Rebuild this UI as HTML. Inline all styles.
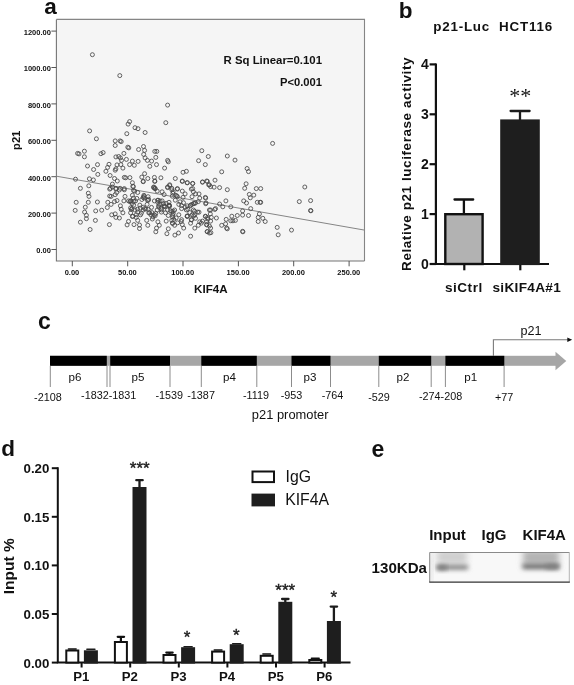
<!DOCTYPE html>
<html lang="en"><head><meta charset="utf-8"><title>Figure</title>
<style>
html,body{margin:0;padding:0;background:#fff;}
body{width:574px;height:685px;overflow:hidden;}
svg{display:block;}
text{font-family:"Liberation Sans",Arial,Helvetica,sans-serif;fill:#111;}
.b{font-weight:bold;}
.ser{font-family:"Liberation Serif","Times New Roman",serif;}
</style></head><body>
<svg width="574" height="685" viewBox="0 0 574 685">
<rect x="0" y="0" width="574" height="685" fill="#ffffff"/>
<g id="panel-a">
<text class="b" x="44.3" y="13.5" font-size="22.5">a</text>
<rect x="56.4" y="19.4" width="308.1" height="241.6" fill="#f5f5f5"/>
<path d="M56.4 19.4H364.5V261.0" fill="none" stroke="#858585" stroke-width="1.1"/>
<path d="M56.4 19.4V261.0H364.5" fill="none" stroke="#757575" stroke-width="1.1"/>
<line x1="51.4" y1="249.5" x2="56.4" y2="249.5" stroke="#555" stroke-width="1"/>
<text class="b" x="50.9" y="253.4" font-size="7.5" text-anchor="end" fill="#333">0.00</text>
<line x1="51.4" y1="213.1" x2="56.4" y2="213.1" stroke="#555" stroke-width="1"/>
<text class="b" x="50.9" y="217.0" font-size="7.5" text-anchor="end" fill="#333">200.00</text>
<line x1="51.4" y1="176.7" x2="56.4" y2="176.7" stroke="#555" stroke-width="1"/>
<text class="b" x="50.9" y="180.6" font-size="7.5" text-anchor="end" fill="#333">400.00</text>
<line x1="51.4" y1="140.3" x2="56.4" y2="140.3" stroke="#555" stroke-width="1"/>
<text class="b" x="50.9" y="144.2" font-size="7.5" text-anchor="end" fill="#333">600.00</text>
<line x1="51.4" y1="103.9" x2="56.4" y2="103.9" stroke="#555" stroke-width="1"/>
<text class="b" x="50.9" y="107.8" font-size="7.5" text-anchor="end" fill="#333">800.00</text>
<line x1="51.4" y1="67.5" x2="56.4" y2="67.5" stroke="#555" stroke-width="1"/>
<text class="b" x="50.9" y="71.4" font-size="7.5" text-anchor="end" fill="#333">1000.00</text>
<line x1="51.4" y1="31.1" x2="56.4" y2="31.1" stroke="#555" stroke-width="1"/>
<text class="b" x="50.9" y="35.0" font-size="7.5" text-anchor="end" fill="#333">1200.00</text>
<line x1="72.3" y1="261.0" x2="72.3" y2="266.3" stroke="#555" stroke-width="1"/>
<text class="b" x="72.0" y="274.6" font-size="7.5" text-anchor="middle" fill="#333">0.00</text>
<line x1="127.7" y1="261.0" x2="127.7" y2="266.3" stroke="#555" stroke-width="1"/>
<text class="b" x="127.4" y="274.6" font-size="7.5" text-anchor="middle" fill="#333">50.00</text>
<line x1="183.0" y1="261.0" x2="183.0" y2="266.3" stroke="#555" stroke-width="1"/>
<text class="b" x="182.7" y="274.6" font-size="7.5" text-anchor="middle" fill="#333">100.00</text>
<line x1="238.4" y1="261.0" x2="238.4" y2="266.3" stroke="#555" stroke-width="1"/>
<text class="b" x="238.1" y="274.6" font-size="7.5" text-anchor="middle" fill="#333">150.00</text>
<line x1="293.7" y1="261.0" x2="293.7" y2="266.3" stroke="#555" stroke-width="1"/>
<text class="b" x="293.4" y="274.6" font-size="7.5" text-anchor="middle" fill="#333">200.00</text>
<line x1="349.1" y1="261.0" x2="349.1" y2="266.3" stroke="#555" stroke-width="1"/>
<text class="b" x="348.8" y="274.6" font-size="7.5" text-anchor="middle" fill="#333">250.00</text>
<line x1="56.4" y1="176.2" x2="364.5" y2="230.1" stroke="#858585" stroke-width="1"/>
<g fill="none" stroke="#484848" stroke-width="0.85">
<circle cx="92.4" cy="54.7" r="2.0"/><circle cx="119.8" cy="75.6" r="2.0"/><circle cx="167.6" cy="105.1" r="2.0"/><circle cx="165.8" cy="122.7" r="2.0"/><circle cx="129.6" cy="121.6" r="2.0"/><circle cx="128.1" cy="124.1" r="2.0"/><circle cx="135.0" cy="127.7" r="2.0"/><circle cx="138.0" cy="128.7" r="2.0"/><circle cx="89.6" cy="130.9" r="2.0"/><circle cx="96.4" cy="138.8" r="2.0"/><circle cx="77.6" cy="153.4" r="2.0"/><circle cx="79.0" cy="153.9" r="2.0"/><circle cx="84.4" cy="151.2" r="2.0"/><circle cx="84.4" cy="156.8" r="2.0"/><circle cx="100.9" cy="153.7" r="2.0"/><circle cx="103.1" cy="152.6" r="2.0"/><circle cx="87.5" cy="166.0" r="2.0"/><circle cx="97.5" cy="164.6" r="2.0"/><circle cx="93.6" cy="169.5" r="2.0"/><circle cx="97.8" cy="174.4" r="2.0"/><circle cx="75.5" cy="179.2" r="2.0"/><circle cx="89.4" cy="178.8" r="2.0"/><circle cx="93.4" cy="179.9" r="2.0"/><circle cx="88.8" cy="185.8" r="2.0"/><circle cx="80.4" cy="188.3" r="2.0"/><circle cx="126.8" cy="133.7" r="2.0"/><circle cx="115.2" cy="140.9" r="2.0"/><circle cx="120.1" cy="140.9" r="2.0"/><circle cx="121.2" cy="141.6" r="2.0"/><circle cx="115.2" cy="145.5" r="2.0"/><circle cx="127.8" cy="147.2" r="2.0"/><circle cx="128.8" cy="147.9" r="2.0"/><circle cx="123.9" cy="153.4" r="2.0"/><circle cx="115.9" cy="156.9" r="2.0"/><circle cx="118.7" cy="156.5" r="2.0"/><circle cx="120.4" cy="157.9" r="2.0"/><circle cx="121.5" cy="160.4" r="2.0"/><circle cx="126.4" cy="159.4" r="2.0"/><circle cx="132.4" cy="161.1" r="2.0"/><circle cx="129.6" cy="164.6" r="2.0"/><circle cx="134.3" cy="165.3" r="2.0"/><circle cx="109.0" cy="164.3" r="2.0"/><circle cx="107.6" cy="167.4" r="2.0"/><circle cx="105.9" cy="171.3" r="2.0"/><circle cx="117.0" cy="164.9" r="2.0"/><circle cx="120.8" cy="164.6" r="2.0"/><circle cx="115.9" cy="168.8" r="2.0"/><circle cx="115.2" cy="170.2" r="2.0"/><circle cx="122.9" cy="168.1" r="2.0"/><circle cx="110.1" cy="175.5" r="2.0"/><circle cx="114.5" cy="178.5" r="2.0"/><circle cx="117.3" cy="181.0" r="2.0"/><circle cx="124.3" cy="177.4" r="2.0"/><circle cx="125.7" cy="177.8" r="2.0"/><circle cx="129.9" cy="177.6" r="2.0"/><circle cx="132.4" cy="182.7" r="2.0"/><circle cx="112.4" cy="184.1" r="2.0"/><circle cx="110.4" cy="188.3" r="2.0"/><circle cx="115.9" cy="188.3" r="2.0"/><circle cx="120.1" cy="188.3" r="2.0"/><circle cx="124.3" cy="188.6" r="2.0"/><circle cx="133.4" cy="186.6" r="2.0"/><circle cx="88.3" cy="193.2" r="2.0"/><circle cx="89.0" cy="196.4" r="2.0"/><circle cx="76.2" cy="202.3" r="2.0"/><circle cx="88.3" cy="202.3" r="2.0"/><circle cx="97.4" cy="202.0" r="2.0"/><circle cx="85.3" cy="207.2" r="2.0"/><circle cx="75.2" cy="210.4" r="2.0"/><circle cx="84.6" cy="212.1" r="2.0"/><circle cx="95.7" cy="210.9" r="2.0"/><circle cx="101.7" cy="210.2" r="2.0"/><circle cx="86.4" cy="215.3" r="2.0"/><circle cx="86.4" cy="218.7" r="2.0"/><circle cx="95.4" cy="220.4" r="2.0"/><circle cx="80.4" cy="222.2" r="2.0"/><circle cx="90.1" cy="229.5" r="2.0"/><circle cx="109.4" cy="224.6" r="2.0"/><circle cx="107.8" cy="202.3" r="2.0"/><circle cx="111.1" cy="204.4" r="2.0"/><circle cx="107.3" cy="207.5" r="2.0"/><circle cx="109.7" cy="189.1" r="2.0"/><circle cx="109.7" cy="196.0" r="2.0"/><circle cx="111.1" cy="196.4" r="2.0"/><circle cx="112.4" cy="187.0" r="2.0"/><circle cx="115.9" cy="189.1" r="2.0"/><circle cx="119.4" cy="190.0" r="2.0"/><circle cx="124.3" cy="189.8" r="2.0"/><circle cx="116.6" cy="192.5" r="2.0"/><circle cx="115.2" cy="194.6" r="2.0"/><circle cx="125.0" cy="196.4" r="2.0"/><circle cx="114.5" cy="201.6" r="2.0"/><circle cx="117.0" cy="200.6" r="2.0"/><circle cx="123.9" cy="200.9" r="2.0"/><circle cx="128.5" cy="200.9" r="2.0"/><circle cx="129.9" cy="201.6" r="2.0"/><circle cx="132.4" cy="195.3" r="2.0"/><circle cx="133.4" cy="198.1" r="2.0"/><circle cx="120.4" cy="205.8" r="2.0"/><circle cx="121.2" cy="209.3" r="2.0"/><circle cx="122.9" cy="212.8" r="2.0"/><circle cx="130.6" cy="207.9" r="2.0"/><circle cx="131.3" cy="209.5" r="2.0"/><circle cx="130.6" cy="212.8" r="2.0"/><circle cx="111.7" cy="214.8" r="2.0"/><circle cx="115.2" cy="213.9" r="2.0"/><circle cx="115.9" cy="217.4" r="2.0"/><circle cx="119.4" cy="218.0" r="2.0"/><circle cx="132.4" cy="216.5" r="2.0"/><circle cx="128.5" cy="221.4" r="2.0"/><circle cx="127.1" cy="224.9" r="2.0"/><circle cx="134.0" cy="224.6" r="2.0"/><circle cx="134.7" cy="191.1" r="2.0"/><circle cx="145.1" cy="132.5" r="2.0"/><circle cx="143.5" cy="146.5" r="2.0"/><circle cx="138.6" cy="149.5" r="2.0"/><circle cx="144.6" cy="150.4" r="2.0"/><circle cx="143.7" cy="154.4" r="2.0"/><circle cx="145.1" cy="157.9" r="2.0"/><circle cx="147.4" cy="160.4" r="2.0"/><circle cx="151.6" cy="161.1" r="2.0"/><circle cx="155.8" cy="157.4" r="2.0"/><circle cx="154.8" cy="151.4" r="2.0"/><circle cx="156.8" cy="151.4" r="2.0"/><circle cx="156.5" cy="164.6" r="2.0"/><circle cx="149.8" cy="166.3" r="2.0"/><circle cx="138.1" cy="161.4" r="2.0"/><circle cx="167.6" cy="160.4" r="2.0"/><circle cx="168.3" cy="161.8" r="2.0"/><circle cx="164.6" cy="168.1" r="2.0"/><circle cx="201.8" cy="150.7" r="2.0"/><circle cx="208.3" cy="156.5" r="2.0"/><circle cx="198.6" cy="160.7" r="2.0"/><circle cx="205.3" cy="164.6" r="2.0"/><circle cx="183.0" cy="172.3" r="2.0"/><circle cx="186.4" cy="171.3" r="2.0"/><circle cx="144.6" cy="173.7" r="2.0"/><circle cx="141.8" cy="177.1" r="2.0"/><circle cx="147.8" cy="178.5" r="2.0"/><circle cx="143.2" cy="181.3" r="2.0"/><circle cx="154.4" cy="177.4" r="2.0"/><circle cx="154.8" cy="181.0" r="2.0"/><circle cx="160.9" cy="177.8" r="2.0"/><circle cx="175.3" cy="178.5" r="2.0"/><circle cx="182.3" cy="181.0" r="2.0"/><circle cx="187.4" cy="182.7" r="2.0"/><circle cx="192.7" cy="183.4" r="2.0"/><circle cx="202.5" cy="182.0" r="2.0"/><circle cx="206.7" cy="181.0" r="2.0"/><circle cx="208.7" cy="184.8" r="2.0"/><circle cx="153.7" cy="187.6" r="2.0"/><circle cx="155.1" cy="188.6" r="2.0"/><circle cx="169.7" cy="184.8" r="2.0"/><circle cx="167.6" cy="187.6" r="2.0"/><circle cx="171.8" cy="188.3" r="2.0"/><circle cx="177.4" cy="188.6" r="2.0"/><circle cx="192.7" cy="188.6" r="2.0"/><circle cx="143.2" cy="181.7" r="2.0"/><circle cx="154.8" cy="181.4" r="2.0"/><circle cx="182.3" cy="181.4" r="2.0"/><circle cx="187.1" cy="182.8" r="2.0"/><circle cx="192.7" cy="183.5" r="2.0"/><circle cx="202.5" cy="182.1" r="2.0"/><circle cx="207.4" cy="181.4" r="2.0"/><circle cx="209.4" cy="184.9" r="2.0"/><circle cx="132.8" cy="186.3" r="2.0"/><circle cx="133.5" cy="190.5" r="2.0"/><circle cx="137.7" cy="192.5" r="2.0"/><circle cx="153.7" cy="187.0" r="2.0"/><circle cx="155.1" cy="188.6" r="2.0"/><circle cx="157.2" cy="191.1" r="2.0"/><circle cx="162.1" cy="191.8" r="2.0"/><circle cx="164.1" cy="194.6" r="2.0"/><circle cx="167.6" cy="187.0" r="2.0"/><circle cx="169.7" cy="185.6" r="2.0"/><circle cx="171.8" cy="189.8" r="2.0"/><circle cx="173.2" cy="191.8" r="2.0"/><circle cx="177.4" cy="189.1" r="2.0"/><circle cx="182.3" cy="191.1" r="2.0"/><circle cx="185.1" cy="193.9" r="2.0"/><circle cx="191.3" cy="189.1" r="2.0"/><circle cx="193.4" cy="191.8" r="2.0"/><circle cx="195.5" cy="193.9" r="2.0"/><circle cx="199.0" cy="193.9" r="2.0"/><circle cx="192.0" cy="196.7" r="2.0"/><circle cx="199.7" cy="198.1" r="2.0"/><circle cx="205.3" cy="197.4" r="2.0"/><circle cx="198.3" cy="201.6" r="2.0"/><circle cx="206.0" cy="203.0" r="2.0"/><circle cx="143.9" cy="195.3" r="2.0"/><circle cx="143.2" cy="197.4" r="2.0"/><circle cx="148.1" cy="196.7" r="2.0"/><circle cx="147.4" cy="200.2" r="2.0"/><circle cx="141.8" cy="199.5" r="2.0"/><circle cx="135.6" cy="200.9" r="2.0"/><circle cx="130.7" cy="200.9" r="2.0"/><circle cx="132.1" cy="203.7" r="2.0"/><circle cx="139.8" cy="205.1" r="2.0"/><circle cx="143.2" cy="207.2" r="2.0"/><circle cx="154.4" cy="200.9" r="2.0"/><circle cx="157.9" cy="200.2" r="2.0"/><circle cx="160.0" cy="200.9" r="2.0"/><circle cx="162.1" cy="200.9" r="2.0"/><circle cx="176.0" cy="195.3" r="2.0"/><circle cx="177.4" cy="196.7" r="2.0"/><circle cx="183.0" cy="197.4" r="2.0"/><circle cx="175.3" cy="200.2" r="2.0"/><circle cx="178.8" cy="204.4" r="2.0"/><circle cx="169.0" cy="202.3" r="2.0"/><circle cx="169.0" cy="205.8" r="2.0"/><circle cx="164.1" cy="205.8" r="2.0"/><circle cx="187.1" cy="205.8" r="2.0"/><circle cx="190.6" cy="205.1" r="2.0"/><circle cx="192.0" cy="204.4" r="2.0"/><circle cx="195.5" cy="203.0" r="2.0"/><circle cx="185.1" cy="207.2" r="2.0"/><circle cx="181.6" cy="208.6" r="2.0"/><circle cx="187.8" cy="209.3" r="2.0"/><circle cx="132.1" cy="208.6" r="2.0"/><circle cx="134.9" cy="210.0" r="2.0"/><circle cx="137.7" cy="212.1" r="2.0"/><circle cx="136.3" cy="214.8" r="2.0"/><circle cx="132.8" cy="216.2" r="2.0"/><circle cx="140.5" cy="214.8" r="2.0"/><circle cx="144.6" cy="208.6" r="2.0"/><circle cx="148.1" cy="209.3" r="2.0"/><circle cx="148.8" cy="212.8" r="2.0"/><circle cx="150.9" cy="214.8" r="2.0"/><circle cx="153.0" cy="216.9" r="2.0"/><circle cx="155.8" cy="213.4" r="2.0"/><circle cx="157.2" cy="210.0" r="2.0"/><circle cx="158.6" cy="205.8" r="2.0"/><circle cx="161.4" cy="212.1" r="2.0"/><circle cx="165.5" cy="212.8" r="2.0"/><circle cx="168.3" cy="215.5" r="2.0"/><circle cx="171.8" cy="211.4" r="2.0"/><circle cx="173.2" cy="213.4" r="2.0"/><circle cx="174.6" cy="210.0" r="2.0"/><circle cx="172.5" cy="216.9" r="2.0"/><circle cx="178.8" cy="214.8" r="2.0"/><circle cx="187.1" cy="216.2" r="2.0"/><circle cx="192.0" cy="214.8" r="2.0"/><circle cx="194.8" cy="214.8" r="2.0"/><circle cx="197.6" cy="212.1" r="2.0"/><circle cx="193.4" cy="210.0" r="2.0"/><circle cx="205.3" cy="216.2" r="2.0"/><circle cx="207.4" cy="217.6" r="2.0"/><circle cx="209.4" cy="210.0" r="2.0"/><circle cx="137.7" cy="220.4" r="2.0"/><circle cx="146.7" cy="220.4" r="2.0"/><circle cx="147.8" cy="225.3" r="2.0"/><circle cx="152.3" cy="219.0" r="2.0"/><circle cx="157.9" cy="221.8" r="2.0"/><circle cx="159.3" cy="225.3" r="2.0"/><circle cx="156.5" cy="228.1" r="2.0"/><circle cx="166.2" cy="221.1" r="2.0"/><circle cx="171.8" cy="220.4" r="2.0"/><circle cx="172.5" cy="223.2" r="2.0"/><circle cx="174.6" cy="225.3" r="2.0"/><circle cx="181.6" cy="219.7" r="2.0"/><circle cx="182.3" cy="224.6" r="2.0"/><circle cx="183.7" cy="228.1" r="2.0"/><circle cx="191.3" cy="219.7" r="2.0"/><circle cx="190.6" cy="223.2" r="2.0"/><circle cx="195.5" cy="218.3" r="2.0"/><circle cx="199.7" cy="221.8" r="2.0"/><circle cx="198.3" cy="225.3" r="2.0"/><circle cx="194.8" cy="228.1" r="2.0"/><circle cx="202.5" cy="221.1" r="2.0"/><circle cx="206.7" cy="221.8" r="2.0"/><circle cx="206.7" cy="224.6" r="2.0"/><circle cx="209.4" cy="226.0" r="2.0"/><circle cx="139.5" cy="228.5" r="2.0"/><circle cx="155.8" cy="231.8" r="2.0"/><circle cx="166.9" cy="233.7" r="2.0"/><circle cx="174.9" cy="235.1" r="2.0"/><circle cx="178.5" cy="233.0" r="2.0"/><circle cx="190.6" cy="236.2" r="2.0"/><circle cx="207.4" cy="231.6" r="2.0"/><circle cx="209.4" cy="233.0" r="2.0"/><circle cx="168.3" cy="228.8" r="2.0"/><circle cx="154.5" cy="187.8" r="2.0"/><circle cx="144.1" cy="196.2" r="2.0"/><circle cx="148.3" cy="200.3" r="2.0"/><circle cx="158.0" cy="200.3" r="2.0"/><circle cx="169.2" cy="205.2" r="2.0"/><circle cx="176.8" cy="196.2" r="2.0"/><circle cx="190.1" cy="205.9" r="2.0"/><circle cx="187.3" cy="216.4" r="2.0"/><circle cx="191.5" cy="219.9" r="2.0"/><circle cx="172.6" cy="215.0" r="2.0"/><circle cx="172.6" cy="223.3" r="2.0"/><circle cx="149.7" cy="212.9" r="2.0"/><circle cx="155.2" cy="215.7" r="2.0"/><circle cx="130.8" cy="201.0" r="2.0"/><circle cx="187.4" cy="216.0" r="2.0"/><circle cx="169.3" cy="205.5" r="2.0"/><circle cx="272.6" cy="143.4" r="2.0"/><circle cx="227.3" cy="156.0" r="2.0"/><circle cx="235.0" cy="160.1" r="2.0"/><circle cx="221.7" cy="171.8" r="2.0"/><circle cx="247.1" cy="168.5" r="2.0"/><circle cx="248.5" cy="171.6" r="2.0"/><circle cx="215.0" cy="180.2" r="2.0"/><circle cx="210.6" cy="186.6" r="2.0"/><circle cx="214.1" cy="187.2" r="2.0"/><circle cx="219.6" cy="187.6" r="2.0"/><circle cx="246.1" cy="183.8" r="2.0"/><circle cx="244.7" cy="188.3" r="2.0"/><circle cx="256.3" cy="188.6" r="2.0"/><circle cx="260.7" cy="188.6" r="2.0"/><circle cx="227.3" cy="189.7" r="2.0"/><circle cx="249.3" cy="194.4" r="2.0"/><circle cx="253.8" cy="195.1" r="2.0"/><circle cx="250.3" cy="197.8" r="2.0"/><circle cx="205.7" cy="198.1" r="2.0"/><circle cx="225.9" cy="200.9" r="2.0"/><circle cx="243.7" cy="200.9" r="2.0"/><circle cx="246.5" cy="203.0" r="2.0"/><circle cx="257.3" cy="202.3" r="2.0"/><circle cx="260.1" cy="202.3" r="2.0"/><circle cx="260.7" cy="202.3" r="2.0"/><circle cx="205.7" cy="203.7" r="2.0"/><circle cx="219.6" cy="204.0" r="2.0"/><circle cx="222.8" cy="206.8" r="2.0"/><circle cx="230.8" cy="206.8" r="2.0"/><circle cx="215.5" cy="208.6" r="2.0"/><circle cx="214.8" cy="209.5" r="2.0"/><circle cx="210.6" cy="210.0" r="2.0"/><circle cx="250.7" cy="208.6" r="2.0"/><circle cx="242.6" cy="210.9" r="2.0"/><circle cx="210.3" cy="213.9" r="2.0"/><circle cx="242.6" cy="215.1" r="2.0"/><circle cx="248.5" cy="215.5" r="2.0"/><circle cx="259.4" cy="213.9" r="2.0"/><circle cx="237.3" cy="215.5" r="2.0"/><circle cx="231.8" cy="216.2" r="2.0"/><circle cx="205.7" cy="216.5" r="2.0"/><circle cx="211.3" cy="217.4" r="2.0"/><circle cx="216.4" cy="218.0" r="2.0"/><circle cx="207.8" cy="219.0" r="2.0"/><circle cx="258.2" cy="217.4" r="2.0"/><circle cx="262.8" cy="218.3" r="2.0"/><circle cx="226.2" cy="219.4" r="2.0"/><circle cx="230.8" cy="220.8" r="2.0"/><circle cx="232.9" cy="220.8" r="2.0"/><circle cx="235.4" cy="220.4" r="2.0"/><circle cx="210.6" cy="221.1" r="2.0"/><circle cx="258.2" cy="221.5" r="2.0"/><circle cx="265.2" cy="221.5" r="2.0"/><circle cx="225.6" cy="223.9" r="2.0"/><circle cx="221.7" cy="225.3" r="2.0"/><circle cx="206.7" cy="224.9" r="2.0"/><circle cx="226.6" cy="228.1" r="2.0"/><circle cx="227.3" cy="228.8" r="2.0"/><circle cx="210.6" cy="228.1" r="2.0"/><circle cx="207.1" cy="231.6" r="2.0"/><circle cx="210.9" cy="232.7" r="2.0"/><circle cx="242.6" cy="231.3" r="2.0"/><circle cx="242.9" cy="231.8" r="2.0"/><circle cx="277.2" cy="227.4" r="2.0"/><circle cx="278.2" cy="234.8" r="2.0"/><circle cx="304.8" cy="187.0" r="2.0"/><circle cx="299.3" cy="201.6" r="2.0"/><circle cx="310.6" cy="200.6" r="2.0"/><circle cx="310.6" cy="210.5" r="2.0"/><circle cx="310.9" cy="210.8" r="2.0"/><circle cx="291.5" cy="230.1" r="2.0"/><circle cx="154.3" cy="214.8" r="2.0"/><circle cx="136.2" cy="217.4" r="2.0"/><circle cx="169.6" cy="206.2" r="2.0"/><circle cx="167.5" cy="210.1" r="2.0"/><circle cx="133.7" cy="205.2" r="2.0"/><circle cx="137.5" cy="209.2" r="2.0"/><circle cx="161.6" cy="209.9" r="2.0"/><circle cx="147.1" cy="204.4" r="2.0"/><circle cx="176.2" cy="217.9" r="2.0"/><circle cx="159.6" cy="204.6" r="2.0"/><circle cx="201.3" cy="223.1" r="2.0"/><circle cx="151.9" cy="212.6" r="2.0"/><circle cx="141.4" cy="213.1" r="2.0"/><circle cx="189.8" cy="212.6" r="2.0"/><circle cx="144.0" cy="198.0" r="2.0"/><circle cx="157.8" cy="202.4" r="2.0"/><circle cx="170.4" cy="210.6" r="2.0"/><circle cx="145.8" cy="209.1" r="2.0"/><circle cx="180.0" cy="201.8" r="2.0"/><circle cx="173.2" cy="211.1" r="2.0"/><circle cx="163.6" cy="203.6" r="2.0"/><circle cx="181.3" cy="221.5" r="2.0"/><circle cx="148.6" cy="199.3" r="2.0"/><circle cx="194.0" cy="203.6" r="2.0"/><circle cx="183.5" cy="202.7" r="2.0"/><circle cx="139.5" cy="225.0" r="2.0"/><circle cx="161.1" cy="208.2" r="2.0"/><circle cx="166.2" cy="203.4" r="2.0"/><circle cx="133.8" cy="201.3" r="2.0"/><circle cx="172.3" cy="196.2" r="2.0"/><circle cx="194.0" cy="203.2" r="2.0"/><circle cx="173.8" cy="219.4" r="2.0"/><circle cx="172.8" cy="193.3" r="2.0"/><circle cx="199.0" cy="212.2" r="2.0"/><circle cx="165.1" cy="206.5" r="2.0"/><circle cx="181.5" cy="205.6" r="2.0"/><circle cx="177.6" cy="222.8" r="2.0"/><circle cx="151.5" cy="207.4" r="2.0"/><circle cx="158.8" cy="207.2" r="2.0"/><circle cx="164.2" cy="206.5" r="2.0"/><circle cx="143.1" cy="210.1" r="2.0"/><circle cx="186.3" cy="209.9" r="2.0"/><circle cx="140.3" cy="208.1" r="2.0"/><circle cx="193.7" cy="216.0" r="2.0"/><circle cx="136.8" cy="198.4" r="2.0"/><circle cx="194.6" cy="211.2" r="2.0"/>
</g>
<text class="b" x="322" y="63.8" font-size="11.4" text-anchor="end" fill="#222">R Sq Linear=0.101</text>
<text class="b" x="322" y="86" font-size="11.2" text-anchor="end" fill="#222">P&lt;0.001</text>
<text class="b" x="210.8" y="293.2" font-size="11.6" text-anchor="middle" fill="#222">KIF4A</text>
<text class="b" transform="translate(19.6,140.3) rotate(-90)" font-size="11.2" text-anchor="middle" fill="#222">p21</text>
</g>
<g id="panel-b">
<text class="b" x="398.8" y="17.6" font-size="22.5">b</text>
<text class="b" x="433.2" y="30.7" font-size="13.4" textLength="119" lengthAdjust="spacing" style="white-space:pre" xml:space="preserve">p21-Luc  HCT116</text>
<path d="M435.9 63.4V264.0H549" fill="none" stroke="#111" stroke-width="2.2"/>
<line x1="429.6" y1="264.0" x2="435.9" y2="264.0" stroke="#111" stroke-width="2.2"/>
<text class="b" x="428.8" y="269.0" font-size="14" text-anchor="end">0</text>
<line x1="429.6" y1="214.1" x2="435.9" y2="214.1" stroke="#111" stroke-width="2.2"/>
<text class="b" x="428.8" y="219.1" font-size="14" text-anchor="end">1</text>
<line x1="429.6" y1="164.2" x2="435.9" y2="164.2" stroke="#111" stroke-width="2.2"/>
<text class="b" x="428.8" y="169.2" font-size="14" text-anchor="end">2</text>
<line x1="429.6" y1="114.3" x2="435.9" y2="114.3" stroke="#111" stroke-width="2.2"/>
<text class="b" x="428.8" y="119.3" font-size="14" text-anchor="end">3</text>
<line x1="429.6" y1="64.4" x2="435.9" y2="64.4" stroke="#111" stroke-width="2.2"/>
<text class="b" x="428.8" y="69.4" font-size="14" text-anchor="end">4</text>
<line x1="464.3" y1="264.0" x2="464.3" y2="270.3" stroke="#111" stroke-width="2.2"/>
<line x1="520.3" y1="264.0" x2="520.3" y2="270.3" stroke="#111" stroke-width="2.2"/>
<path d="M463.9 214V199.5M454.5 199.5H473.2" fill="none" stroke="#111" stroke-width="2.3" stroke-linecap="round"/>
<rect x="445.3" y="214.2" width="37.3" height="49.80000000000001" fill="#b2b2b2" stroke="#111" stroke-width="2.4"/>
<path d="M520 120V111M510.6 111H529.6" fill="none" stroke="#1c1c1c" stroke-width="2.3" stroke-linecap="round"/>
<rect x="500.2" y="119.4" width="39.6" height="145.7" fill="#1e1e1e"/>
<text class="ser" x="520.2" y="103.4" font-size="22" text-anchor="middle" fill="#222">**</text>
<text class="b" x="445" y="292" font-size="13.6" textLength="37.2" lengthAdjust="spacing">siCtrl</text>
<text class="b" x="492.4" y="292" font-size="13.6" textLength="68.4" lengthAdjust="spacing">siKIF4A#1</text>
<text class="b" transform="translate(411.2,270.9) rotate(-90)" font-size="13.5" textLength="213.4" lengthAdjust="spacing">Relative p21 luciferase activity</text>
</g>
<g id="panel-c">
<text class="b" x="38" y="328.7" font-size="23">c</text>
<rect x="50" y="355.8" width="506" height="10.0" fill="#a6a6a6"/>
<path d="M555.5 351.7L566.3 361L555.5 370.3Z" fill="#a6a6a6"/>
<rect x="50" y="355.8" width="56.8" height="10.0" fill="#000"/>
<rect x="110.2" y="355.8" width="59.8" height="10.0" fill="#000"/>
<rect x="201.3" y="355.8" width="55.5" height="10.0" fill="#000"/>
<rect x="291.5" y="355.8" width="39.0" height="10.0" fill="#000"/>
<rect x="378.8" y="355.8" width="52.4" height="10.0" fill="#000"/>
<rect x="445.4" y="355.8" width="58.9" height="10.0" fill="#000"/>
<line x1="50.3" y1="365.8" x2="50.3" y2="387" stroke="#8c8c8c" stroke-width="1"/>
<line x1="107" y1="365.8" x2="107" y2="387" stroke="#8c8c8c" stroke-width="1"/>
<line x1="110" y1="365.8" x2="110" y2="387" stroke="#8c8c8c" stroke-width="1"/>
<line x1="170" y1="365.8" x2="170" y2="387" stroke="#8c8c8c" stroke-width="1"/>
<line x1="201.3" y1="365.8" x2="201.3" y2="387" stroke="#8c8c8c" stroke-width="1"/>
<line x1="256.8" y1="365.8" x2="256.8" y2="387" stroke="#8c8c8c" stroke-width="1"/>
<line x1="291.5" y1="365.8" x2="291.5" y2="387" stroke="#8c8c8c" stroke-width="1"/>
<line x1="330.5" y1="365.8" x2="330.5" y2="387" stroke="#8c8c8c" stroke-width="1"/>
<line x1="378.8" y1="365.8" x2="378.8" y2="387" stroke="#8c8c8c" stroke-width="1"/>
<line x1="431.2" y1="365.8" x2="431.2" y2="387" stroke="#8c8c8c" stroke-width="1"/>
<line x1="445.4" y1="365.8" x2="445.4" y2="387" stroke="#8c8c8c" stroke-width="1"/>
<line x1="504.1" y1="365.8" x2="504.1" y2="387" stroke="#8c8c8c" stroke-width="1"/>
<text x="74.9" y="380.6" font-size="11.6" text-anchor="middle">p6</text>
<text x="138" y="380.6" font-size="11.6" text-anchor="middle">p5</text>
<text x="229.5" y="380.6" font-size="11.6" text-anchor="middle">p4</text>
<text x="310" y="380.6" font-size="11.6" text-anchor="middle">p3</text>
<text x="403" y="380.6" font-size="11.6" text-anchor="middle">p2</text>
<text x="470.7" y="380.6" font-size="11.6" text-anchor="middle">p1</text>
<text x="34.1" y="400.6" font-size="10.8" text-anchor="start">-2108</text>
<text x="81.1" y="399" font-size="10.8" text-anchor="start">-1832-1831</text>
<text x="155.5" y="399" font-size="10.8" text-anchor="start">-1539</text>
<text x="214.9" y="399" font-size="10.8" text-anchor="end">-1387</text>
<text x="243" y="399" font-size="10.8" text-anchor="start">-1119</text>
<text x="280.7" y="399" font-size="10.8" text-anchor="start">-953</text>
<text x="321.7" y="399" font-size="10.8" text-anchor="start">-764</text>
<text x="368.2" y="400.8" font-size="10.8" text-anchor="start">-529</text>
<text x="419" y="399.6" font-size="10.8" text-anchor="start">-274-208</text>
<text x="495" y="400.8" font-size="10.8" text-anchor="start">+77</text>
<text x="290.2" y="419.4" font-size="12.9" text-anchor="middle">p21 promoter</text>
<path d="M493.4 356V339.8H568" fill="none" stroke="#7a7a7a" stroke-width="1.1"/>
<path d="M567.3 337.6L572.2 339.8L567.3 342Z" fill="#111"/>
<text x="520.6" y="334.9" font-size="12.6">p21</text>
</g>
<g id="panel-d">
<text class="b" x="1.2" y="456" font-size="22.5">d</text>
<path d="M57.8 467.3V662.6H350.5" fill="none" stroke="#111" stroke-width="2"/>
<line x1="51.8" y1="662.6" x2="57.8" y2="662.6" stroke="#111" stroke-width="2"/>
<text class="b" x="49.4" y="667.5" font-size="13.3" text-anchor="end">0.00</text>
<line x1="51.8" y1="614.0" x2="57.8" y2="614.0" stroke="#111" stroke-width="2"/>
<text class="b" x="49.4" y="618.9" font-size="13.3" text-anchor="end">0.05</text>
<line x1="51.8" y1="565.4" x2="57.8" y2="565.4" stroke="#111" stroke-width="2"/>
<text class="b" x="49.4" y="570.3" font-size="13.3" text-anchor="end">0.10</text>
<line x1="51.8" y1="516.8" x2="57.8" y2="516.8" stroke="#111" stroke-width="2"/>
<text class="b" x="49.4" y="521.7" font-size="13.3" text-anchor="end">0.15</text>
<line x1="51.8" y1="468.2" x2="57.8" y2="468.2" stroke="#111" stroke-width="2"/>
<text class="b" x="49.4" y="473.1" font-size="13.3" text-anchor="end">0.20</text>
<line x1="81.6" y1="662.6" x2="81.6" y2="667.5" stroke="#111" stroke-width="2"/>
<text class="b" x="81.3" y="681.3" font-size="13.2" text-anchor="middle">P1</text>
<line x1="130.2" y1="662.6" x2="130.2" y2="667.5" stroke="#111" stroke-width="2"/>
<text class="b" x="129.9" y="681.3" font-size="13.2" text-anchor="middle">P2</text>
<line x1="178.8" y1="662.6" x2="178.8" y2="667.5" stroke="#111" stroke-width="2"/>
<text class="b" x="178.5" y="681.3" font-size="13.2" text-anchor="middle">P3</text>
<line x1="227.4" y1="662.6" x2="227.4" y2="667.5" stroke="#111" stroke-width="2"/>
<text class="b" x="227.1" y="681.3" font-size="13.2" text-anchor="middle">P4</text>
<line x1="276.0" y1="662.6" x2="276.0" y2="667.5" stroke="#111" stroke-width="2"/>
<text class="b" x="275.7" y="681.3" font-size="13.2" text-anchor="middle">P5</text>
<line x1="324.6" y1="662.6" x2="324.6" y2="667.5" stroke="#111" stroke-width="2"/>
<text class="b" x="324.3" y="681.3" font-size="13.2" text-anchor="middle">P6</text>
<path d="M68.5 649.0H76.1" fill="none" stroke="#111" stroke-width="1.6" stroke-linecap="round"/>
<rect x="66.3" y="650.5" width="12" height="12.1" fill="#fff" stroke="#111" stroke-width="2"/>
<path d="M86.9 649.3H94.9" fill="none" stroke="#1c1c1c" stroke-width="1.6" stroke-linecap="round"/>
<rect x="83.9" y="650.3" width="14" height="13.3" fill="#1e1e1e"/>
<path d="M120.9 641.0V636.8M117.7 636.8H124.1" fill="none" stroke="#111" stroke-width="2.2" stroke-linecap="round"/>
<rect x="114.9" y="642.0" width="12" height="20.6" fill="#fff" stroke="#111" stroke-width="2"/>
<path d="M139.5 487.0V480.2M136.3 480.2H142.7" fill="none" stroke="#1c1c1c" stroke-width="2.3" stroke-linecap="round"/>
<rect x="132.5" y="487.0" width="14" height="176.6" fill="#1e1e1e"/>
<path d="M169.5 654.0V652.6M166.3 652.6H172.7" fill="none" stroke="#111" stroke-width="2.2" stroke-linecap="round"/>
<rect x="163.5" y="655.0" width="12" height="7.6" fill="#fff" stroke="#111" stroke-width="2"/>
<path d="M184.1 646.7H192.1" fill="none" stroke="#1c1c1c" stroke-width="1.6" stroke-linecap="round"/>
<rect x="181.1" y="647.2" width="14" height="16.4" fill="#1e1e1e"/>
<path d="M214.3 650.0H221.9" fill="none" stroke="#111" stroke-width="1.6" stroke-linecap="round"/>
<rect x="212.1" y="651.6" width="12" height="11.0" fill="#fff" stroke="#111" stroke-width="2"/>
<path d="M232.7 643.7H240.7" fill="none" stroke="#1c1c1c" stroke-width="1.6" stroke-linecap="round"/>
<rect x="229.7" y="644.2" width="14" height="19.4" fill="#1e1e1e"/>
<path d="M262.9 654.0H270.5" fill="none" stroke="#111" stroke-width="1.6" stroke-linecap="round"/>
<rect x="260.7" y="655.8" width="12" height="6.8" fill="#fff" stroke="#111" stroke-width="2"/>
<path d="M285.3 601.8V599.0M282.1 599.0H288.5" fill="none" stroke="#1c1c1c" stroke-width="2.3" stroke-linecap="round"/>
<rect x="278.3" y="601.8" width="14" height="61.8" fill="#1e1e1e"/>
<path d="M311.5 658.4H319.1" fill="none" stroke="#111" stroke-width="1.6" stroke-linecap="round"/>
<rect x="309.3" y="660.0" width="12" height="2.6" fill="#fff" stroke="#111" stroke-width="2"/>
<path d="M333.9 621.0V606.6M330.7 606.6H337.1" fill="none" stroke="#1c1c1c" stroke-width="2.3" stroke-linecap="round"/>
<rect x="326.9" y="621.0" width="14" height="42.6" fill="#1e1e1e"/>
<text x="139.8" y="473.5" font-size="17" text-anchor="middle" fill="#2a2a2a" stroke="#2a2a2a" stroke-width="0.4">***</text>
<text x="187.1" y="642.5" font-size="17" text-anchor="middle" fill="#2a2a2a" stroke="#2a2a2a" stroke-width="0.4">*</text>
<text x="236.2" y="641" font-size="17" text-anchor="middle" fill="#2a2a2a" stroke="#2a2a2a" stroke-width="0.4">*</text>
<text x="285.2" y="595.5" font-size="17" text-anchor="middle" fill="#2a2a2a" stroke="#2a2a2a" stroke-width="0.4">***</text>
<text x="333.8" y="602.5" font-size="17" text-anchor="middle" fill="#2a2a2a" stroke="#2a2a2a" stroke-width="0.4">*</text>
<text class="b" transform="translate(13.9,566.3) rotate(-90)" font-size="15.5" text-anchor="middle">Input %</text>
<rect x="252.5" y="471.5" width="21.5" height="10.6" fill="#fff" stroke="#111" stroke-width="2"/>
<rect x="251.5" y="493.6" width="23.5" height="12.8" fill="#1e1e1e"/>
<text x="285.6" y="481.8" font-size="15.8" fill="#222">IgG</text>
<text x="285.2" y="504.8" font-size="15.8" fill="#222">KIF4A</text>
</g>
<g id="panel-e">
<defs><filter id="bl" x="-20%" y="-80%" width="140%" height="260%"><feGaussianBlur stdDeviation="2.6 2.3"/></filter><filter id="bl2" x="-20%" y="-80%" width="140%" height="260%"><feGaussianBlur stdDeviation="3.2 3"/></filter><clipPath id="blot"><rect x="429.5" y="552.5" width="140" height="29.8"/></clipPath></defs>
<text class="b" x="371.4" y="456.6" font-size="23">e</text>
<rect x="429.5" y="552.5" width="140" height="29.8" fill="#f8f8f8"/>
<g clip-path="url(#blot)">
<rect x="425" y="552" width="7" height="31" fill="#e4e4e4" filter="url(#bl2)"/>
<rect x="437" y="550" width="30" height="14" fill="#cfcfcf" filter="url(#bl2)"/>
<rect x="523" y="550" width="36" height="15" fill="#b4b4b4" filter="url(#bl2)"/>
<rect x="437" y="564.6" width="31" height="5.4" fill="#8e8e8e" filter="url(#bl)"/>
<rect x="437" y="565.2" width="10" height="4.8" fill="#7c7c7c" filter="url(#bl)"/>
<rect x="522.5" y="563.6" width="37" height="5.8" fill="#767676" filter="url(#bl)"/>
<rect x="546" y="564.4" width="12" height="4.4" fill="#808080" filter="url(#bl)"/>
</g>
<path d="M429.7 582.3V552.5H569.5" fill="none" stroke="#8a8a8a" stroke-width="1"/>
<path d="M569.3 552.5V582.3" fill="none" stroke="#b5b5b5" stroke-width="1"/>
<path d="M429.3 582.2H569.8" fill="none" stroke="#333" stroke-width="1.3"/>
<text class="b" x="429.2" y="539.7" font-size="15">Input</text>
<text class="b" x="481.5" y="539.7" font-size="15">IgG</text>
<text class="b" x="522.6" y="539.7" font-size="15">KIF4A</text>
<text class="b" x="371.6" y="572.7" font-size="15.1">130KDa</text>
</g>
</svg>
</body></html>
